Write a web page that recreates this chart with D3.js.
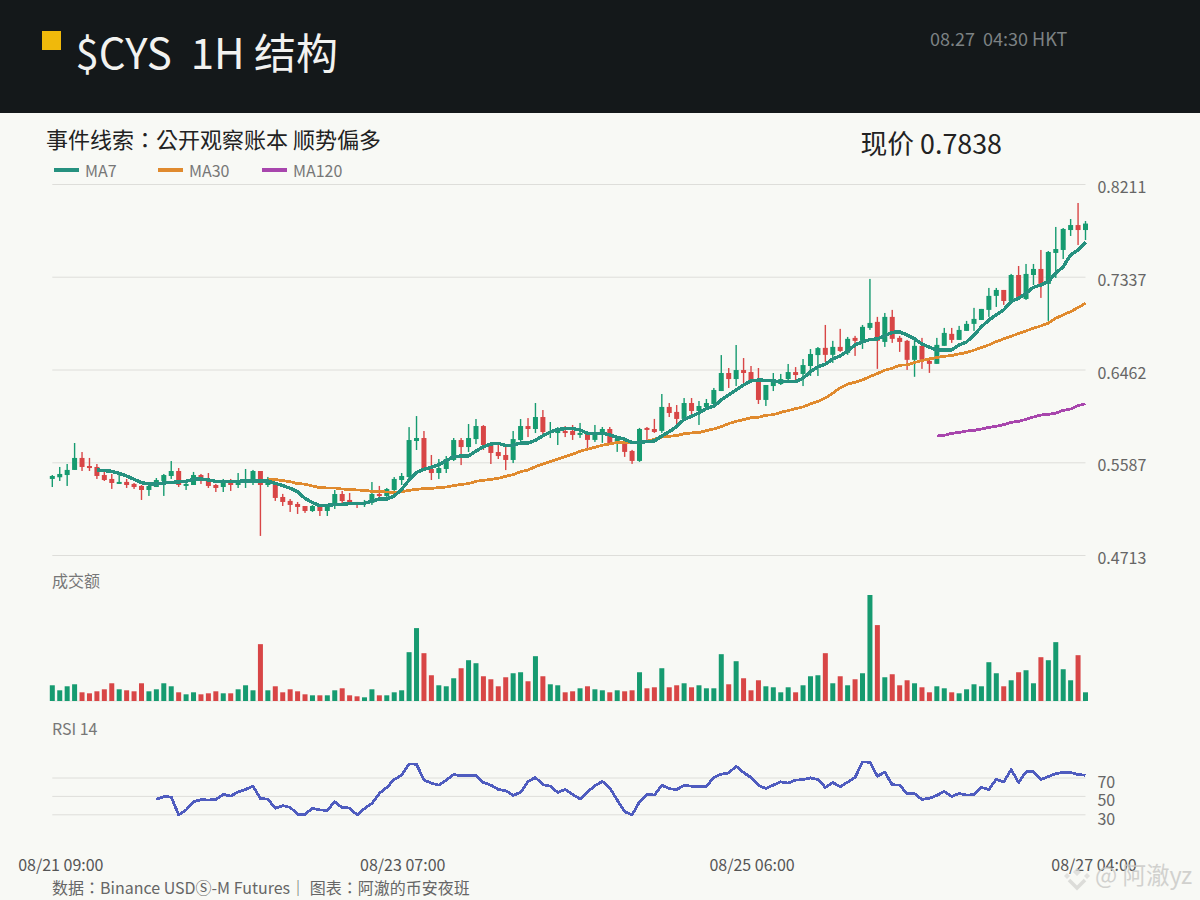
<!DOCTYPE html>
<html><head>
<meta charset="utf-8">
<title>$CYS 1H</title>
<script src="https://d3js.org/d3.v7.min.js"></script>
<style>
  html, body { margin: 0; padding: 0; background: #f8f9f5; overflow: hidden; }
  text { font-family: "Noto Sans CJK TC", "Noto Sans", sans-serif; }
  .grid line { stroke: #dededa; stroke-width: 1; }
  .grid .domain { stroke: none; }
  .ticks text { fill: #666; font-size: 16px; }
</style>
</head>
<body>
<svg id="chart" width="1200" height="900"></svg>
<script>

// hourly candles, 08/21 09:00 to 08/27 04:00
const opens = [
  .5430,.5446,.5467,.5515,.5628,.5552,.5543,.5467,.5430,.5383,
  .5402,.5383,.5364,.5326,.5354,.5411,.5458,.5505,.5364,.5373,
  .5467,.5420,.5373,.5354,.5420,.5373,.5392,.5392,.5505,.5373,
  .5392,.5260,.5223,.5194,.5175,.5128,.5175,.5128,.5185,.5288,
  .5232,.5213,.5194,.5204,.5288,.5269,.5326,.5420,.5448,.5788,
  .5816,.5524,.5486,.5524,.5609,.5797,.5731,.5806,.5929,.5750,
  .5684,.5656,.5609,.5797,.5929,.5901,.6014,.5863,.5863,.5882,
  .5883,.5845,.5854,.5798,.5845,.5901,.5770,.5760,.5694,.5600,
  .5911,.5901,.5883,.6109,.6062,.5996,.6146,.6071,.6109,.6137,
  .6259,.6429,.6372,.6457,.6438,.6354,.6175,.6306,.6325,.6372,
  .6438,.6420,.6495,.6598,.6666,.6600,.6675,.6619,.6760,.6732,
  .6854,.6911,.6722,.6958,.6760,.6732,.6553,.6685,.6543,.6515,
  .6685,.6798,.6741,.6826,.6892,.6929,.7024,.7156,.7212,.7108,
  .7353,.7127,.7353,.7410,.7269,.7561,.7589,.7777,.7824,.7777];
const highs = [
  .5467,.5543,.5571,.5769,.5684,.5628,.5571,.5505,.5477,.5477,
  .5430,.5392,.5373,.5383,.5439,.5477,.5599,.5533,.5402,.5496,
  .5477,.5486,.5383,.5430,.5430,.5486,.5524,.5515,.5505,.5449,
  .5402,.5289,.5241,.5213,.5175,.5185,.5185,.5194,.5326,.5317,
  .5298,.5213,.5232,.5401,.5364,.5345,.5448,.5486,.5919,.6023,
  .5882,.5656,.5618,.5646,.5816,.5816,.5948,.5995,.5938,.5750,
  .5750,.5731,.5882,.5995,.6004,.6146,.6080,.5967,.5919,.5929,
  .5939,.5958,.5873,.5939,.5920,.5920,.5830,.5798,.5704,.5911,
  .5920,.5996,.6231,.6146,.6127,.6193,.6193,.6165,.6184,.6288,
  .6598,.6476,.6693,.6570,.6495,.6476,.6316,.6429,.6420,.6514,
  .6485,.6561,.6655,.6674,.6882,.6732,.6845,.6769,.6779,.6882,
  .7316,.6958,.6995,.7024,.6779,.6741,.6751,.6760,.6553,.6760,
  .6854,.6854,.6873,.6920,.7043,.7033,.7231,.7231,.7212,.7363,
  .7438,.7457,.7457,.7589,.7579,.7806,.7796,.7881,.8032,.7862];
const lows = [
  .5354,.5411,.5364,.5515,.5505,.5505,.5430,.5411,.5336,.5383,
  .5345,.5336,.5232,.5270,.5354,.5270,.5430,.5354,.5326,.5373,
  .5383,.5345,.5307,.5307,.5317,.5345,.5345,.5373,.4893,.5354,
  .5223,.5175,.5119,.5100,.5110,.5119,.5081,.5081,.5147,.5185,
  .5185,.5156,.5166,.5185,.5251,.5260,.5317,.5373,.5430,.5703,
  .5514,.5420,.5430,.5486,.5599,.5561,.5684,.5759,.5703,.5571,
  .5618,.5514,.5580,.5788,.5825,.5863,.5835,.5816,.5750,.5825,
  .5798,.5817,.5713,.5779,.5770,.5760,.5685,.5638,.5572,.5591,
  .5788,.5864,.5864,.6014,.5939,.5996,.6024,.5939,.6099,.6137,
  .6259,.6288,.6306,.6335,.6344,.6137,.6118,.6259,.6316,.6363,
  .6335,.6306,.6401,.6401,.6534,.6524,.6628,.6600,.6590,.6656,
  .6835,.6468,.6675,.6713,.6628,.6458,.6393,.6468,.6430,.6515,
  .6685,.6713,.6741,.6826,.6826,.6929,.6958,.7052,.7071,.7108,
  .7127,.7118,.7259,.7137,.6920,.7325,.7504,.7721,.7636,.7683];
const closes = [
  .5458,.5477,.5515,.5628,.5543,.5533,.5458,.5420,.5392,.5402,
  .5373,.5354,.5326,.5364,.5420,.5467,.5505,.5373,.5383,.5467,
  .5411,.5364,.5345,.5420,.5373,.5420,.5420,.5505,.5373,.5411,
  .5251,.5213,.5185,.5166,.5128,.5175,.5128,.5194,.5288,.5222,
  .5194,.5194,.5213,.5288,.5269,.5335,.5430,.5458,.5797,.5816,
  .5514,.5486,.5533,.5618,.5797,.5731,.5816,.5929,.5750,.5675,
  .5646,.5609,.5806,.5929,.5901,.6014,.5872,.5882,.5901,.5863,
  .5845,.5864,.5798,.5845,.5901,.5760,.5807,.5685,.5600,.5901,
  .5892,.5873,.6109,.6052,.5996,.6146,.6071,.6118,.6146,.6269,
  .6429,.6372,.6457,.6429,.6354,.6175,.6316,.6363,.6372,.6438,
  .6410,.6504,.6608,.6664,.6600,.6675,.6637,.6751,.6732,.6864,
  .6901,.6732,.6958,.6751,.6722,.6553,.6685,.6553,.6515,.6694,
  .6807,.6741,.6835,.6892,.6939,.7033,.7156,.7212,.7108,.7353,
  .7146,.7363,.7410,.7269,.7570,.7598,.7787,.7824,.7777,.7838];

// volume, relative units (no axis on the original)
const volumes = [
  47,32,44,50,26,23,29,35,53,35,32,29,53,29,35,53,44,26,20,26,
  20,23,29,23,23,35,47,32,170,32,44,26,35,29,20,17,17,17,32,38,
  17,14,11,35,17,17,26,32,146,218,143,77,47,44,68,98,122,113,74,65,
  44,71,83,86,59,134,74,50,47,26,29,38,44,35,32,26,32,29,32,86,
  38,41,98,41,47,53,41,47,38,38,140,50,119,68,32,62,44,41,26,41,
  26,47,74,77,143,53,74,47,65,83,317,227,71,80,47,62,53,41,26,44,
  38,26,23,35,50,44,116,83,44,62,86,92,53,131,122,176,95,62,137,26];

const ma7Start = 6;
const ma7 = [
  .5515,.5508,.5502,.5483,.5458,.5427,.5395,.5383,.5383,.5392,
  .5398,.5402,.5408,.5427,.5430,.5420,.5408,.5405,.5405,.5408,
  .5411,.5411,.5411,.5411,.5389,.5367,.5342,.5310,.5246,.5207,
  .5178,.5182,.5188,.5191,.5197,.5200,.5200,.5222,.5241,.5241,
  .5269,.5332,.5420,.5492,.5521,.5540,.5565,.5602,.5640,.5646,
  .5646,.5693,.5734,.5759,.5766,.5744,.5747,.5769,.5769,.5794,
  .5838,.5872,.5897,.5904,.5905,.5892,.5861,.5861,.5861,.5845,
  .5823,.5804,.5773,.5776,.5782,.5788,.5835,.5876,.5923,.5992,
  .6021,.6052,.6096,.6115,.6175,.6222,.6269,.6316,.6354,.6363,
  .6360,.6354,.6347,.6347,.6347,.6379,.6441,.6489,.6512,.6562,
  .6590,.6637,.6694,.6722,.6744,.6751,.6779,.6813,.6816,.6788,
  .6751,.6703,.6672,.6644,.6647,.6647,.6694,.6722,.6788,.6864,
  .6929,.6977,.7024,.7102,.7134,.7181,.7237,.7259,.7291,.7369,
  .7432,.7542,.7589,.7661];

const ma30Start = 29;
const ma30 = [
  .5427,.5424,.5414,.5405,.5386,.5381,.5364,.5348,.5345,.5345,.5335,
  .5332,.5326,.5323,.5313,.5310,.5307,.5304,.5310,.5323,.5332,
  .5339,.5342,.5348,.5354,.5367,.5379,.5386,.5408,.5417,.5426,
  .5436,.5455,.5470,.5499,.5514,.5546,.5571,.5593,.5618,.5640,
  .5663,.5691,.5710,.5729,.5748,.5760,.5773,.5776,.5776,.5776,
  .5785,.5804,.5826,.5832,.5839,.5857,.5864,.5867,.5886,.5901,
  .5923,.5952,.5974,.5989,.6008,.6011,.6030,.6036,.6058,.6074,
  .6093,.6109,.6137,.6162,.6193,.6240,.6288,.6325,.6342,.6364,
  .6396,.6424,.6455,.6474,.6502,.6506,.6528,.6546,.6562,.6575,
  .6587,.6594,.6609,.6622,.6644,.6669,.6694,.6725,.6751,.6776,
  .6801,.6826,.6851,.6873,.6898,.6945,.6977,.7008,.7046,.7087];

const ma120Start = 119;
const ma120 = [
  .5835,.5841,.5860,.5869,.5882,.5888,.5901,.5916,.5926,.5942,
  .5964,.5973,.5992,.6014,.6033,.6039,.6051,.6077,.6089,.6121,.6139];

const rsiStart = 14;
const rsi14 = [
  46.2,49.1,48.8,29.3,34.7,43.7,45.9,45.5,46.2,51.6,49.8,54.2,57.0,60.6,47.0,46.6,
  36.5,39.4,37.6,30.0,30.0,36.5,34.7,34.4,43.7,37.2,36.9,29.3,36.2,41.9,52.7,59.2,
  67.8,72.5,84.8,84.4,67.1,63.9,61.7,67.1,73.2,71.8,72.2,72.5,64.6,61.7,57.0,55.6,
  50.6,53.8,65.7,70.0,62.1,60.6,53.8,57.0,51.6,46.6,54.5,61.0,65.7,58.8,45.5,32.9,
  29.3,43.7,51.6,50.9,61.7,57.8,57.0,61.4,60.6,60.3,60.6,70.0,73.6,75.0,82.2,75.4,
  70.0,61.4,58.1,61.7,65.3,63.9,67.1,67.8,69.6,67.8,59.2,64.6,59.9,65.0,70.0,86.9,
  86.6,71.4,75.8,62.1,61.7,52.4,52.4,46.2,47.3,50.6,54.9,49.5,52.7,50.9,51.3,59.2,
  57.0,68.2,65.0,78.6,64.6,76.1,76.5,67.8,71.1,74.3,75.4,75.4,73.2,72.5];

const priceTicks = [0.8211, 0.7337, 0.6462, 0.5587, 0.4713];
const rsiTicks = [70, 50, 30];
const dateLabels = ["08/21 09:00", "08/23 07:00", "08/25 06:00", "08/27 04:00"];
const dateIndex = [0, 46, 93, 139];

const GREEN = "#169b70", RED = "#d84646";
const C7 = "#26917f", C30 = "#e08a2e", C120 = "#a846ad", CRSI = "#4f5cbf";

const svg = d3.select("#chart");
const left = 52.3, right = 1085.5;

const x = d3.scaleLinear().domain([0, 139]).range([left, right]);
const y = d3.scaleLinear().domain([0.4713, 0.8211]).range([555, 184]);
const yVol = d3.scaleLinear().domain([0, 317]).range([701, 595]);
const yRsi = d3.scaleLinear().domain([30, 70]).range([814.3, 777.5]);

// header
svg.append("rect").attr("width", 1200).attr("height", 900).attr("fill", "#f8f9f5");
svg.append("rect").attr("width", 1200).attr("height", 113).attr("fill", "#14181a");
svg.append("rect").attr("x", 42).attr("y", 31).attr("width", 19).attr("height", 19).attr("fill", "#f0b90b");
svg.append("text").attr("x", 75.5).attr("y", 69).attr("font-size", 42).attr("fill", "#f2f2f0")
  .style("white-space", "pre").text("$CYS  1H 结构");
svg.append("text").attr("x", 930).attr("y", 45.5).attr("font-size", 18).attr("fill", "#7d8284")
  .style("white-space", "pre").text("08.27  04:30 HKT");

svg.append("text").attr("x", 46).attr("y", 148).attr("font-size", 22).attr("fill", "#222").text("事件线索：公开观察账本 顺势偏多");
svg.append("text").attr("x", 860.5).attr("y", 154).attr("font-size", 26.8).attr("fill", "#222").text("现价 0.7838");

// legend
const legendItems = [["MA7", C7, 54], ["MA30", C30, 158], ["MA120", C120, 262]];
legendItems.forEach(d => {
  svg.append("rect").attr("x", d[2]).attr("y", 168).attr("width", 25).attr("height", 4).attr("fill", d[1]);
  svg.append("text").attr("x", d[2] + 31).attr("y", 177).attr("font-size", 16).attr("fill", "#777").text(d[0]);
});

// price axis with gridlines
const priceAxis = d3.axisRight(y).tickValues(priceTicks).tickFormat(d3.format(".4f")).tickSize(right - left).tickPadding(12);
const gp = svg.append("g").attr("class", "grid ticks").attr("transform", "translate(" + left + ",0)").call(priceAxis);
gp.selectAll("text").attr("dy", "0.62em").attr("y", -1.4);

// candles
const idx = d3.range(closes.length);
const colorOf = i => closes[i] >= opens[i] ? GREEN : RED;

svg.append("g").selectAll("rect").data(idx).join("rect")
  .attr("x", i => x(i) - 0.7).attr("width", 1.4)
  .attr("y", i => y(highs[i])).attr("height", i => y(lows[i]) - y(highs[i]))
  .attr("fill", colorOf);

svg.append("g").selectAll("rect").data(idx).join("rect")
  .attr("x", i => x(i) - 2.5).attr("width", 5)
  .attr("y", i => y(Math.max(opens[i], closes[i])))
  .attr("height", i => Math.max(1.5, Math.abs(y(opens[i]) - y(closes[i]))))
  .attr("fill", colorOf);

// moving averages
function drawLine(values, start, yScale, color, width) {
  const line = d3.line().x((d, i) => x(i + start)).y(d => yScale(d));
  svg.append("path").datum(values).attr("d", line).attr("fill", "none")
    .attr("stroke", color).attr("stroke-width", width).attr("stroke-linejoin", "round")
    .attr("shape-rendering", "crispEdges");
}
drawLine(ma120, ma120Start, y, C120, 2.8);
drawLine(ma30, ma30Start, y, C30, 2.8);
drawLine(ma7, ma7Start, y, C7, 3.4);

// volume
svg.append("text").attr("x", 52).attr("y", 587).attr("font-size", 16).attr("fill", "#777").text("成交额");
svg.append("line").attr("x1", left).attr("x2", right).attr("y1", 701).attr("y2", 701).attr("stroke", "#e4e4e0");
svg.append("g").selectAll("rect").data(idx).join("rect")
  .attr("x", i => x(i) - 2.5).attr("width", 5)
  .attr("y", i => yVol(volumes[i])).attr("height", i => yVol(0) - yVol(volumes[i]))
  .attr("fill", colorOf);

// RSI
svg.append("text").attr("x", 52).attr("y", 735).attr("font-size", 16).attr("fill", "#777").text("RSI 14");
const rsiAxis = d3.axisRight(yRsi).tickValues(rsiTicks).tickSize(right - left).tickPadding(12);
const gr = svg.append("g").attr("class", "grid ticks").attr("transform", "translate(" + left + ",0)").call(rsiAxis);
gr.selectAll("text").attr("dy", "0.62em").attr("y", 0);
drawLine(rsi14, rsiStart, yRsi, CRSI, 2.8);

// dates
const dateAxis = d3.axisBottom(x).tickValues(dateIndex).tickFormat((d, i) => dateLabels[i]).tickSize(0);
const gd = svg.append("g").attr("transform", "translate(8,861)").call(dateAxis);
gd.select(".domain").remove();
gd.selectAll("text").attr("y", 0).attr("dy", "0.62em").attr("font-size", 16).attr("font-family", null).attr("fill", "#555");

// source line
svg.append("text").attr("x", 52).attr("y", 894).attr("font-size", 16).attr("fill", "#666").text("数据：Binance USDⓈ-M Futures｜ 图表：阿澈的币安夜班");

// watermark
const wm = svg.append("g").attr("opacity", 0.8);
const diamond = (cx, cy, r) => [[cx, cy - r], [cx + r, cy], [cx, cy + r], [cx - r, cy]].join(" ");
wm.append("polygon").attr("points", diamond(1077, 872, 4)).attr("fill", "#dcdcd9");
wm.append("polygon").attr("points", diamond(1067, 876, 3)).attr("fill", "#dcdcd9");
wm.append("polygon").attr("points", diamond(1087, 876, 3)).attr("fill", "#dcdcd9");
wm.append("polyline").attr("points", "1069,880 1077,888 1085,880").attr("fill", "none")
  .attr("stroke", "#d6d6d3").attr("stroke-width", 3.5);
wm.append("text").attr("x", 1095).attr("y", 884).attr("font-size", 23.5).attr("fill", "#c8c8c5").text("@ 阿澈yz");

</script>
</body></html>
